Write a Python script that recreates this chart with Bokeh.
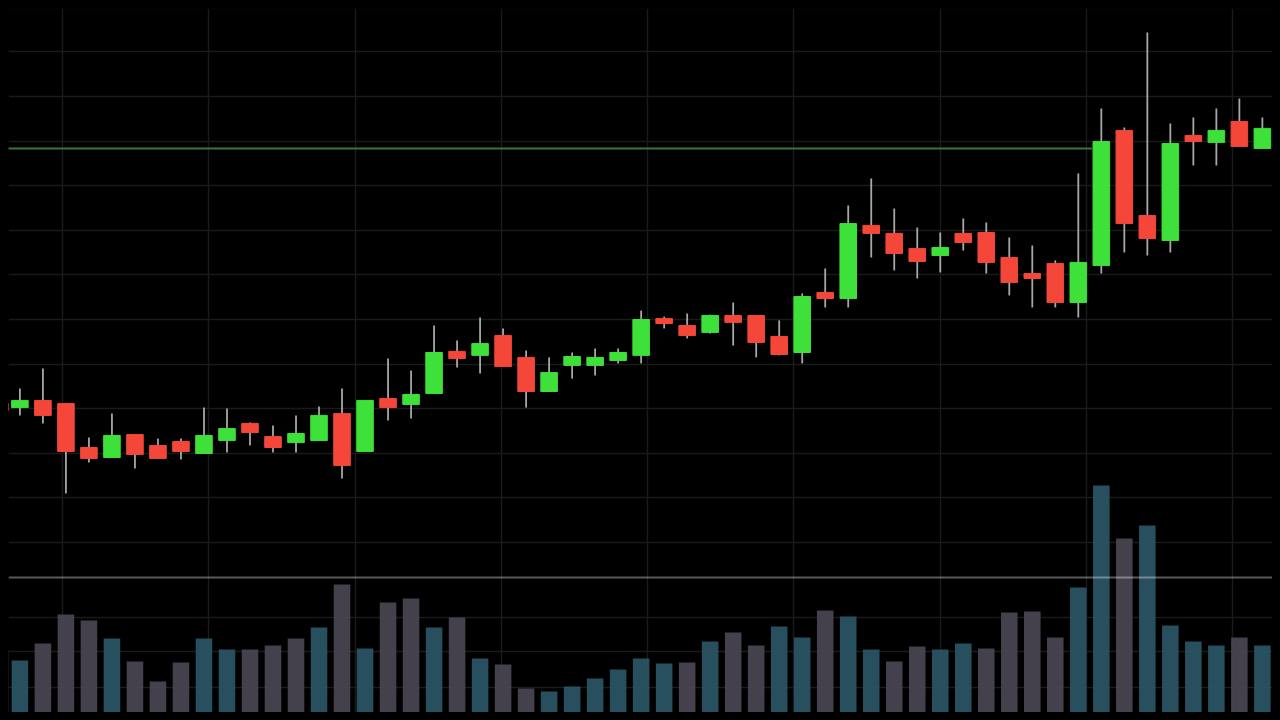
from bokeh.plotting import figure
from bokeh.models import ColumnDataSource, Range1d, Span, FixedTicker, Grid
from bokeh.embed import file_html
from bokeh.resources import INLINE

# ---- data ----
open_ = [106.23, 106.05, 106.37, 106.23, 104.26, 103.81, 104.84, 104.35, 104.53, 103.99,
         104.57, 105.34, 104.75, 104.48, 104.57, 105.78, 104.08, 106.46, 106.19, 106.68,
         108.57, 108.39, 109.28, 108.30, 106.77, 107.94, 107.94, 108.16, 108.39, 110.04,
         109.73, 109.42, 110.18, 110.18, 109.24, 108.52, 111.21, 110.94, 114.22, 113.86,
         113.18, 112.87, 113.86, 113.90, 112.78, 112.06, 112.51, 110.76, 112.42, 118.48,
         114.66, 113.54, 118.25, 117.94, 118.88, 117.67, 118.48]
close = [105.92, 106.37, 105.70, 104.08, 103.77, 104.80, 103.95, 103.77, 104.08, 104.80,
         105.11, 104.93, 104.26, 104.89, 105.70, 103.45, 106.37, 106.05, 106.64, 108.52,
         108.25, 108.92, 107.89, 106.77, 107.62, 108.34, 108.30, 108.52, 110.00, 109.82,
         109.28, 110.18, 109.87, 108.97, 108.43, 111.03, 110.94, 114.30, 113.86, 112.96,
         112.60, 113.23, 113.45, 112.56, 111.66, 111.84, 110.76, 112.56, 117.98, 114.30,
         113.63, 117.89, 117.98, 118.48, 117.76, 118.57, 117.67]
high = [106.46, 106.91, 107.80, 106.23, 104.71, 105.78, 104.84, 104.66, 104.66, 106.05,
        106.01, 105.38, 105.25, 105.70, 106.10, 106.91, 106.37, 108.25, 107.71, 109.73,
        109.06, 110.09, 109.60, 108.61, 108.30, 108.52, 108.70, 108.70, 110.40, 110.13,
        110.27, 110.22, 110.76, 110.18, 109.96, 111.17, 112.29, 115.11, 116.32, 114.98,
        114.13, 113.90, 114.53, 114.35, 113.68, 113.32, 112.65, 116.55, 119.46, 118.61,
        122.87, 118.79, 119.06, 119.46, 119.91, 119.06, 118.70]
low = [105.70, 105.70, 105.34, 102.20, 103.59, 103.81, 103.32, 103.77, 103.72, 103.99,
       104.04, 104.35, 104.04, 104.04, 104.57, 102.87, 104.08, 105.47, 105.56, 106.68,
       107.85, 107.58, 107.89, 106.05, 106.77, 107.35, 107.49, 108.03, 108.03, 109.60,
       109.15, 109.37, 108.83, 108.30, 108.39, 108.03, 110.54, 110.54, 112.78, 112.20,
       111.84, 112.11, 113.09, 112.06, 111.08, 110.54, 110.54, 110.09, 112.06, 113.00,
       112.87, 113.00, 116.91, 116.91, 117.76, 117.67, 117.58]
volume = [700, 600, 770, 1060, 1000, 820, 590, 390, 580, 820,
          710, 710, 750, 820, 930, 1360, 720, 1180, 1220, 930,
          1030, 620, 560, 320, 290, 340, 420, 510, 620, 570,
          580, 790, 880, 750, 940, 830, 1100, 1040, 710, 590,
          740, 710, 770, 720, 1080, 1090, 830, 1330, 2350, 1820,
          1950, 950, 790, 750, 830, 750, 1030]
# volume bar colour group: b = blue, g = gray
volume_group = ["g", "b", "g", "g", "g", "b", "g", "g", "g", "b",
                "b", "g", "g", "g", "b", "g", "b", "g", "g", "b",
                "g", "b", "g", "g", "b", "b", "b", "b", "b", "b",
                "g", "b", "g", "g", "b", "b", "g", "b", "b", "g",
                "g", "b", "b", "g", "g", "g", "g", "b", "b", "g",
                "b", "b", "b", "b", "g", "b", "g"]
resistance_level = 117.67
resistance_end = 47.6
divider_level = 98.43

# ---- styles ----
UP, DOWN = "#3ee03a", "#f4473a"
VOL_BLUE, VOL_GRAY = "#2a5666", "#4a4752"
WICK = "#c4c4c4"
GRID = "#1a1a1a"

n = len(open_)
idx = list(range(n))
src = ColumnDataSource(dict(
    x=idx,
    top=[max(o, c) for o, c in zip(open_, close)],
    bottom=[min(o, c) for o, c in zip(open_, close)],
    high=high, low=low,
    color=[UP if c >= o else DOWN for o, c in zip(open_, close)],
    vol=volume,
    vcolor=[VOL_BLUE if g == "b" else VOL_GRAY for g in volume_group],
))

p = figure(width=1264, height=704, output_backend="svg", toolbar_location=None,
           x_range=Range1d(0.504, 55.44), y_range=Range1d(92.377, 123.946),
           x_axis_location=None, y_axis_location=None,
           background_fill_color="black", border_fill_color="black",
           outline_line_color=None, min_border=0)
for g in list(p.grid):
    g.visible = False
p.extra_y_ranges = {"vol": Range1d(80, 7120)}

xticks = [2.86 + 6.355 * k for k in range(9)]
yticks = [93.5, 95.1, 96.65] + [100 + 2 * k for k in range(13)]
p.add_layout(Grid(dimension=0, ticker=FixedTicker(ticks=xticks),
                  grid_line_color=GRID, grid_line_width=1.5))
p.add_layout(Grid(dimension=1, ticker=FixedTicker(ticks=yticks),
                  grid_line_color=GRID, grid_line_width=1.5))

p.vbar(x="x", width=0.72, top="vol", bottom=0, source=src, y_range_name="vol",
       fill_color="vcolor", line_color=None, fill_alpha=0.92)

p.segment(x0=[-1], y0=[resistance_level], x1=[resistance_end], y1=[resistance_level],
          line_color="#35783a", line_width=2)

p.segment(x0="x", y0="low", x1="x", y1="high", source=src,
          line_color=WICK, line_width=1.8, line_alpha=0.85)
p.vbar(x="x", width=0.72, top="top", bottom="bottom", source=src,
       fill_color="color", line_color="color", line_width=1)

p.add_layout(Span(location=divider_level, dimension="width",
                  line_color="white", line_alpha=0.35, line_width=2))

html = file_html(p, INLINE)
html = html.replace(
    "</head>",
    "<style>html,body{background:#000;margin:0;}body{padding:8px;box-sizing:border-box;}</style></head>",
    1)
open("out.html", "w").write(html)
